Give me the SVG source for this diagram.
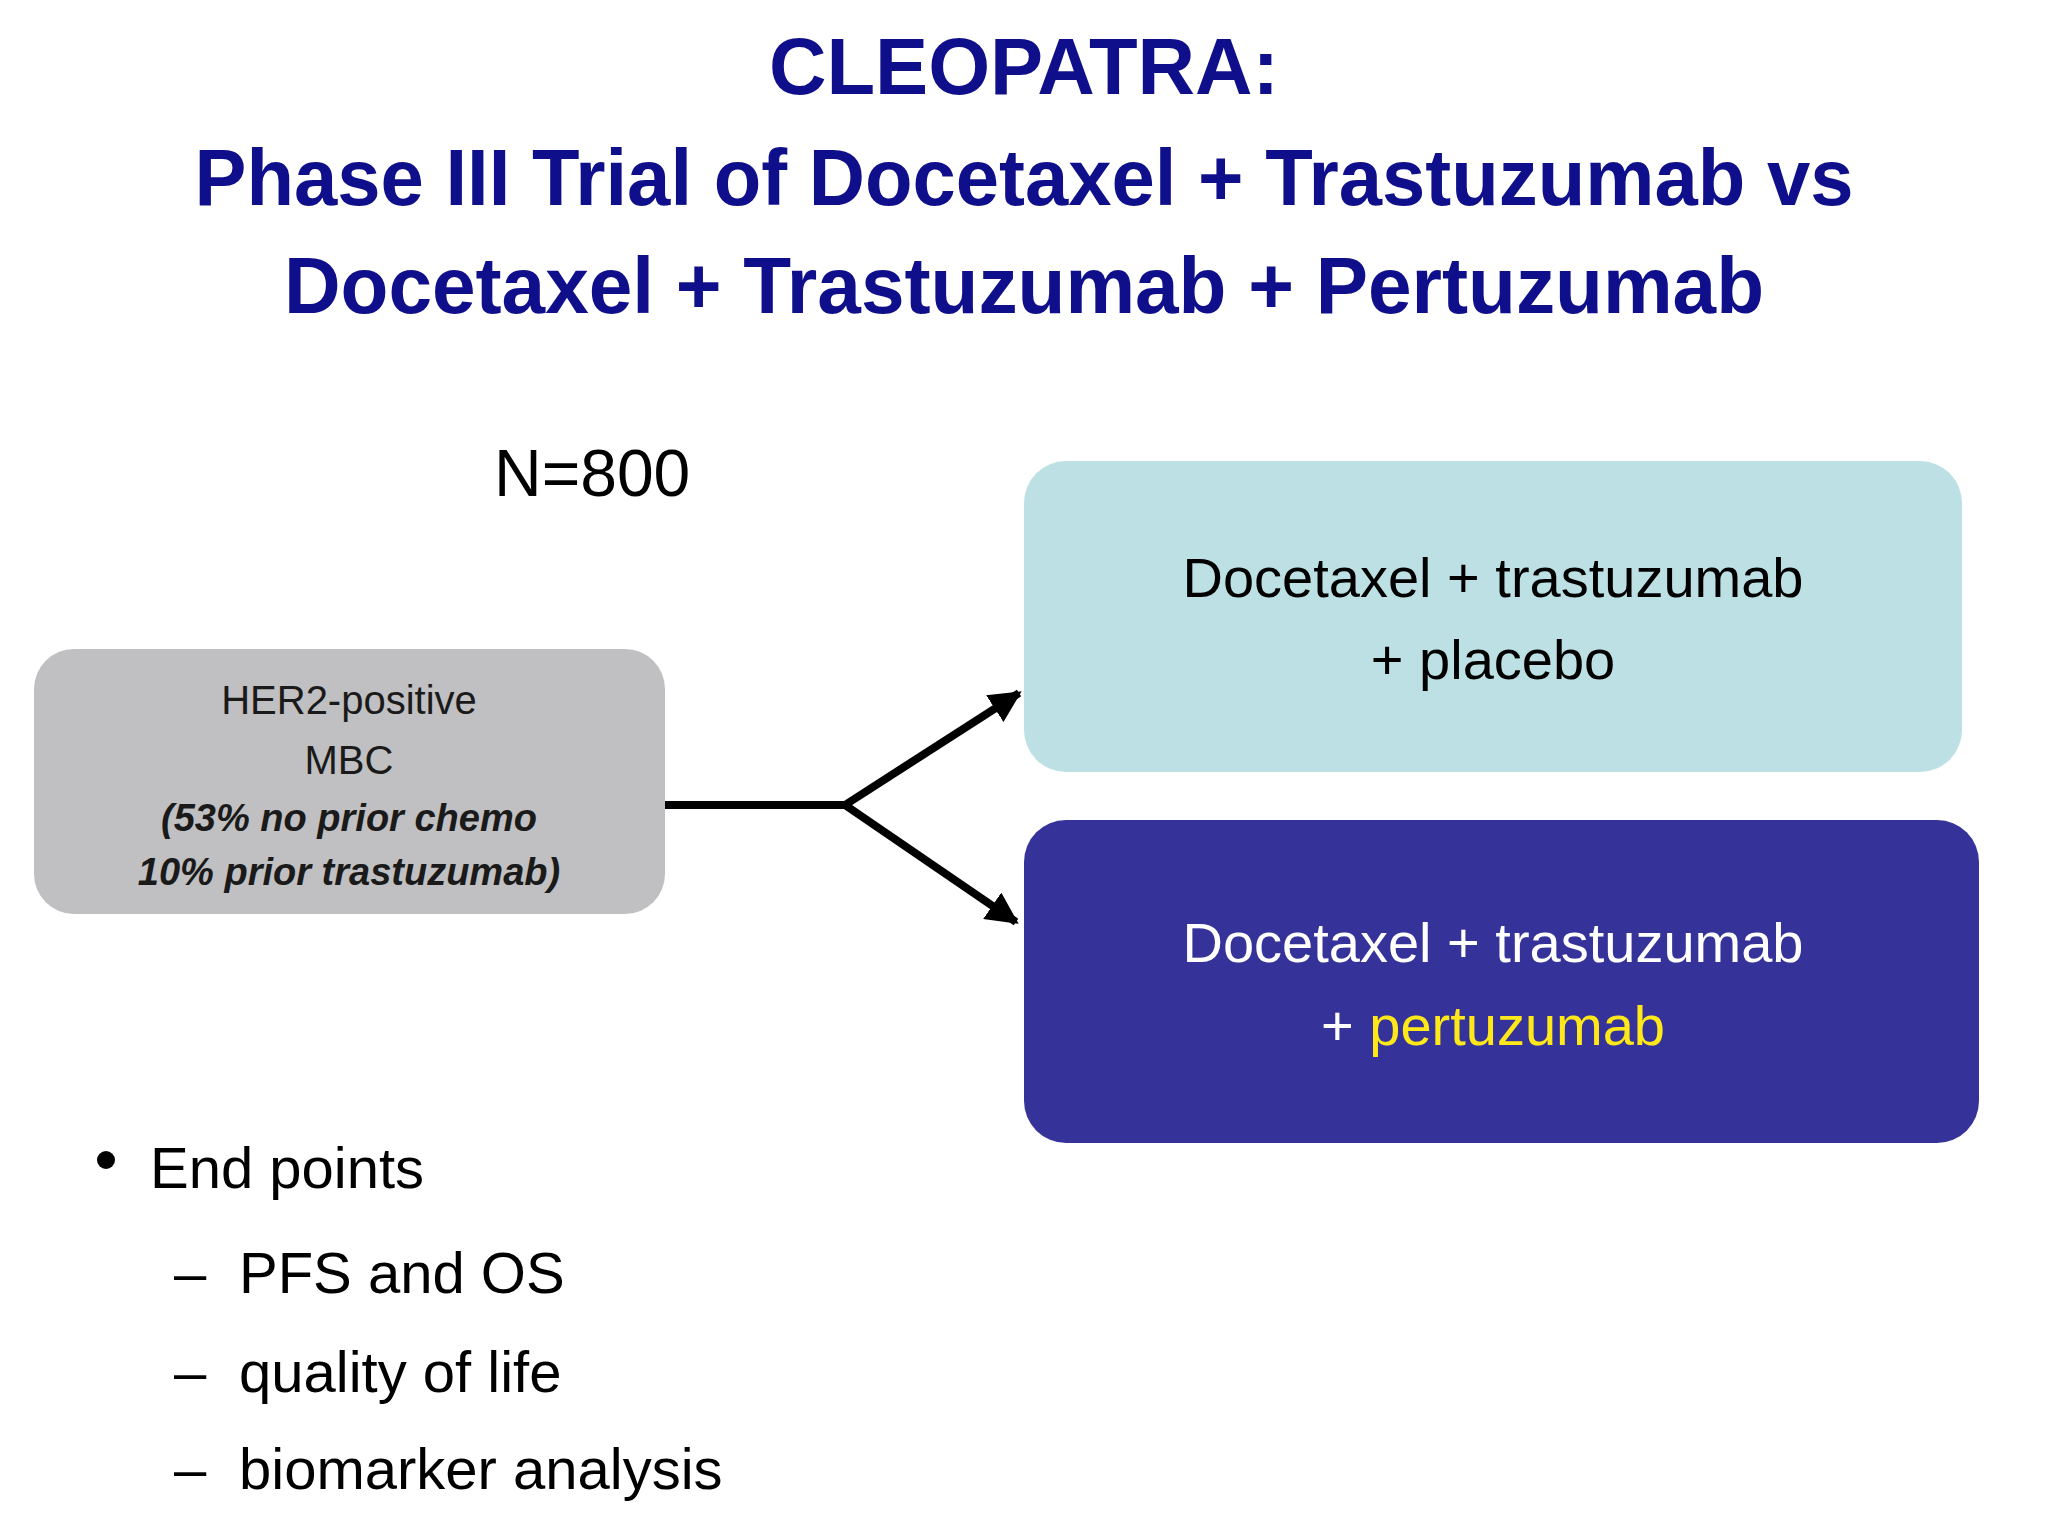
<svg xmlns="http://www.w3.org/2000/svg" width="2048" height="1536" viewBox="0 0 2048 1536">
<style>
text{font-family:"Liberation Sans",Arial,sans-serif}
.t{font-weight:bold;fill:#0f0f8c;font-size:80px;text-anchor:middle}
.g{font-size:40px;fill:#1a1a1a;text-anchor:middle}
.gi{font-size:38px;font-weight:bold;font-style:italic;fill:#1a1a1a;text-anchor:middle}
.b{font-size:56px;text-anchor:middle}
.e{font-size:58px;fill:#000}
.c{stroke:#000;stroke-width:8;fill:none}
</style>
<defs><marker id="a" viewBox="0 0 10 10" refX="9" refY="5" markerWidth="4" markerHeight="4" orient="auto"><path d="M0,0L10,5L0,10z" fill="#000"/></marker></defs>
<rect width="2048" height="1536" fill="#fff"/>
<g id="title">
<text class="t" x="1024" y="94" textLength="510" lengthAdjust="spacingAndGlyphs">CLEOPATRA:</text>
<text class="t" x="1024" y="205" textLength="1659" lengthAdjust="spacingAndGlyphs">Phase III Trial of Docetaxel + Trastuzumab vs</text>
<text class="t" x="1024" y="313" textLength="1480" lengthAdjust="spacingAndGlyphs">Docetaxel + Trastuzumab + Pertuzumab</text>
</g>
<text x="494" y="496" font-size="66" fill="#000">N=800</text>
<g id="her2">
<rect x="34" y="649" width="631" height="265" rx="40" fill="#c0bfc1"/>
<text class="g" x="349" y="714">HER2-positive</text>
<text class="g" x="349" y="774">MBC</text>
<text class="gi" x="349" y="831">(53% no prior chemo</text>
<text class="gi" x="349" y="885">10% prior trastuzumab)</text>
</g>
<g id="arm1">
<rect x="1024" y="461" width="938" height="311" rx="42" fill="#bde0e4"/>
<text class="b" x="1493" y="597" fill="#000">Docetaxel + trastuzumab</text>
<text class="b" x="1493" y="679" fill="#000">+ placebo</text>
</g>
<g id="arm2">
<rect x="1024" y="820" width="955" height="323" rx="42" fill="#353399"/>
<text class="b" x="1493" y="962" fill="#fff">Docetaxel + trastuzumab</text>
<text class="b" x="1493" y="1045" fill="#fff">+ <tspan fill="#ffe81a">pertuzumab</tspan></text>
</g>
<g id="connectors">
<path class="c" d="M665,805H845"/>
<path class="c" d="M845,805L1019,693" marker-end="url(#a)"/>
<path class="c" d="M845,805L1016,922" marker-end="url(#a)"/>
</g>
<g id="endpoints">
<circle cx="106" cy="1160" r="9" fill="#000"/>
<text class="e" x="150" y="1188">End points</text>
<text class="e" x="174" y="1293">–</text><text class="e" x="239" y="1293">PFS and OS</text>
<text class="e" x="174" y="1392">–</text><text class="e" x="239" y="1392">quality of life</text>
<text class="e" x="174" y="1489">–</text><text class="e" x="239" y="1489">biomarker analysis</text>
</g>
</svg>
